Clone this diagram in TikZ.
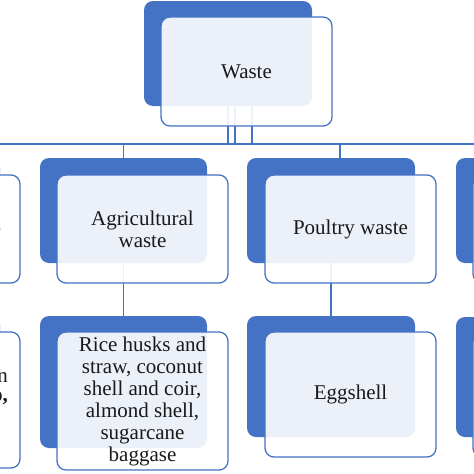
\documentclass[tikz,border=0pt]{standalone}
\usepackage{fontspec}
\setmainfont{Liberation Serif}
\definecolor{myblue}{HTML}{4472C4}
\begin{document}
\begin{tikzpicture}[x=1pt,y=-1pt,
  back/.style={fill=myblue, rounded corners=9pt, inner sep=0pt, outer sep=0pt, anchor=north west},
  front/.style={draw=myblue, line width=1.3pt, fill=white, fill opacity=0.9, text opacity=1, draw opacity=1,
    rounded corners=9pt, inner sep=0pt, outer sep=0pt, anchor=north west, align=center,
    font=\fontsize{21}{22}\selectfont, text=black!90},
  conn/.style={draw=myblue, line width=1.5pt},
  frag/.style={inner sep=0pt, font=\fontsize{21}{22}\selectfont, text=black!90}]
\useasboundingbox (0,0) rectangle (474,474);
\clip (0,0) rectangle (474,474);
% back boxes
\node[back, minimum width=168pt, minimum height=105pt] (b0) at (144,1) {};
\node[back, minimum width=167pt, minimum height=105pt] (bL) at (-167,158) {};
\node[back, minimum width=167pt, minimum height=105pt] (b1) at (40,158) {};
\node[back, minimum width=168pt, minimum height=105pt] (b2) at (247,158) {};
\node[back, minimum width=167pt, minimum height=105pt] (bR) at (456,158) {};
\node[back, minimum width=167pt, minimum height=132pt] (bL2) at (-167,316) {};
\node[back, minimum width=167pt, minimum height=132pt] (b3) at (40,316) {};
\node[back, minimum width=168pt, minimum height=121pt] (b4) at (247,316) {};
\node[back, minimum width=167pt, minimum height=120pt] (bR2) at (456,317) {};
% connectors
\coordinate (hl) at (0,144);
\coordinate (hr) at (474,144);
\coordinate (t1) at (228,144);
\coordinate (t2) at (235,144);
\coordinate (t3) at (252,144);
\coordinate (d2) at (340,144);
\draw[conn] (hl) -- (hr);
\draw[conn] (t1 |- b0.south) -- (t1);
\draw[conn] (t2 |- b0.south) -- (t2);
\draw[conn] (t3 |- b0.south) -- (t3);
\draw[conn] (b1.north |- hl) -- (b1.north);
\draw[conn] (d2) -- (d2 |- b2.north);
\draw[conn] (b1.south) -- (b3.north);
\draw[conn] (b2.south) -- (b4.north);
% front boxes
\node[front, minimum width=171pt, minimum height=109pt] (f0) at (161,17) {Waste};
\node[front, minimum width=170pt, minimum height=108pt] (fL) at (-150,175) {};
\node[front, minimum width=171pt, minimum height=108pt] (f1) at (57,175) {Agricultural\\waste};
\node[front, minimum width=171pt, minimum height=108pt] (f2) at (265,175) {Poultry waste};
\node[front, minimum width=171pt, minimum height=108pt] (fR) at (473,175) {};
\node[front, minimum width=170pt, minimum height=136pt] (fL2) at (-150,332) {};
\node[front, minimum width=171pt, minimum height=138pt] (f3) at (57,332) {Rice husks and\\straw, coconut\\shell and coir,\\almond shell,\\sugarcane\\baggase};
\node[front, minimum width=171pt, minimum height=125pt] (f4) at (265,332) {Eggshell};
\node[front, minimum width=171pt, minimum height=124pt] (fR2) at (473,333) {};
% cut-off text fragments at the left edge
\node[frag, anchor=base east, text=black!40] (e1) at (1.5,235) {e};
\node[frag, anchor=base east] (n1) at (8,382) {n};
\node[frag, anchor=base east] (o1) at (8,401) {\bfseries o,};
\end{tikzpicture}
\end{document}
